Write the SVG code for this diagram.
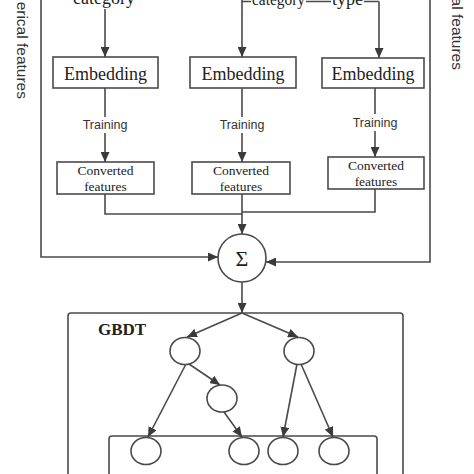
<svg xmlns="http://www.w3.org/2000/svg" width="474" height="474" viewBox="0 0 474 474">
<style>
.ln{fill:none;stroke:#4a4a4a;stroke-width:1.6}
.box{fill:#fff;stroke:#4a4a4a;stroke-width:1.6}
.nd{fill:#fff;stroke:#4a4a4a;stroke-width:1.6}
.serif{font-family:"Liberation Serif","Times New Roman",serif;fill:#222}
.sans{font-family:"Liberation Sans",Arial,sans-serif;fill:#333}
.emb{font-size:18px;text-anchor:middle}
.conv{font-size:13.5px;text-anchor:middle}
.tr{font-size:12.5px;text-anchor:middle}
</style>
<defs>
<marker id="ah" markerUnits="userSpaceOnUse" markerWidth="11" markerHeight="9" refX="10" refY="4.5" orient="auto">
<path d="M0,0 L10,4.5 L0,9 z" fill="#3a3a3a"/>
</marker>
</defs>
<rect width="474" height="474" fill="#fff"/>

<g id="side-labels">
<text class="sans" font-size="15.5" transform="translate(17,99) rotate(90)" text-anchor="end">erical features</text>
<text class="sans" font-size="15.5" transform="translate(452,70) rotate(90)" text-anchor="end">al features</text>
</g>

<g id="inputs">
<text class="serif" x="104" y="4" font-size="18" text-anchor="middle">category</text>
<text class="serif" x="278.5" y="5" font-size="16" text-anchor="middle" textLength="53" lengthAdjust="spacingAndGlyphs">category</text>
<text class="serif" x="347.5" y="5" font-size="18" text-anchor="middle">type</text>
</g>

<g id="connectors">
<path class="ln" d="M105,9 V57" marker-end="url(#ah)"/>
<path class="ln" d="M242,0 V57" marker-end="url(#ah)"/>
<path class="ln" d="M242,1.5 H251 M306,1.5 H331 M364,1.5 H379"/>
<path class="ln" d="M379,1.5 V58" marker-end="url(#ah)"/>
<path class="ln" d="M105,88 V117"/>
<path class="ln" d="M105,133 V162" marker-end="url(#ah)"/>
<path class="ln" d="M242,88 V117"/>
<path class="ln" d="M242,133 V162" marker-end="url(#ah)"/>
<path class="ln" d="M375,88 V114"/>
<path class="ln" d="M375,131 V157" marker-end="url(#ah)"/>
<path class="ln" d="M105,194 V214 H242"/>
<path class="ln" d="M375,189 V212 H242"/>
<path class="ln" d="M242,194 V234" marker-end="url(#ah)"/>
<path class="ln" d="M41,0 V257 H218" marker-end="url(#ah)"/>
<path class="ln" d="M430,0 V262 H266" marker-end="url(#ah)"/>
<path class="ln" d="M242,282 V313" marker-end="url(#ah)"/>
</g>

<g id="embedding-1"><rect class="box" x="53" y="57" width="105" height="31"/><text class="serif emb" x="105.5" y="80">Embedding</text></g>
<g id="embedding-2"><rect class="box" x="190" y="57" width="106" height="31"/><text class="serif emb" x="243" y="80">Embedding</text></g>
<g id="embedding-3"><rect class="box" x="322" y="58" width="102" height="30"/><text class="serif emb" x="373" y="80">Embedding</text></g>

<g id="training-labels">
<text class="sans tr" x="105" y="129">Training</text>
<text class="sans tr" x="242" y="129">Training</text>
<text class="sans tr" x="375" y="127">Training</text>
</g>

<g id="converted-1"><rect class="box" x="57" y="162" width="97" height="32"/><text class="serif conv" x="105.5" y="175">Converted</text><text class="serif conv" x="105.5" y="191">features</text></g>
<g id="converted-2"><rect class="box" x="192" y="162" width="98" height="32"/><text class="serif conv" x="241" y="175">Converted</text><text class="serif conv" x="241" y="191">features</text></g>
<g id="converted-3"><rect class="box" x="328" y="157" width="96" height="32"/><text class="serif conv" x="376" y="170">Converted</text><text class="serif conv" x="376" y="186">features</text></g>

<g id="sum"><circle class="nd" cx="242" cy="258" r="24"/><text class="serif" x="242" y="266" font-size="22" text-anchor="middle">Σ</text></g>

<g id="gbdt">
<rect class="box" x="68" y="313" width="335" height="175" rx="3"/>
<text class="serif" x="98" y="335" font-size="17" font-weight="bold">GBDT</text>
<rect class="box" x="109" y="436" width="268" height="45" rx="3"/>
</g>

<g id="tree-edges">
<path class="ln" d="M242,313 L187,337" marker-end="url(#ah)"/>
<path class="ln" d="M242,313 L298,337" marker-end="url(#ah)"/>
<path class="ln" d="M186,364 L148,437" marker-end="url(#ah)"/>
<path class="ln" d="M189,364 L220,385" marker-end="url(#ah)"/>
<path class="ln" d="M224,412 L242,437" marker-end="url(#ah)"/>
<path class="ln" d="M297,364 L283,437" marker-end="url(#ah)"/>
<path class="ln" d="M301,364 L333,437" marker-end="url(#ah)"/>
</g>

<g id="node-left"><ellipse class="nd" cx="185" cy="351" rx="15" ry="13.5"/></g>
<g id="node-right"><ellipse class="nd" cx="299" cy="351" rx="15" ry="13.5"/></g>
<g id="node-mid"><ellipse class="nd" cx="222" cy="398.5" rx="15" ry="13.5"/></g>
<g id="leaf-1"><ellipse class="nd" cx="146" cy="451" rx="15" ry="13.5"/></g>
<g id="leaf-2"><ellipse class="nd" cx="244" cy="451" rx="15" ry="13.5"/></g>
<g id="leaf-3"><ellipse class="nd" cx="283" cy="451" rx="15" ry="13.5"/></g>
<g id="leaf-4"><ellipse class="nd" cx="334" cy="451" rx="15" ry="13.5"/></g>
</svg>
